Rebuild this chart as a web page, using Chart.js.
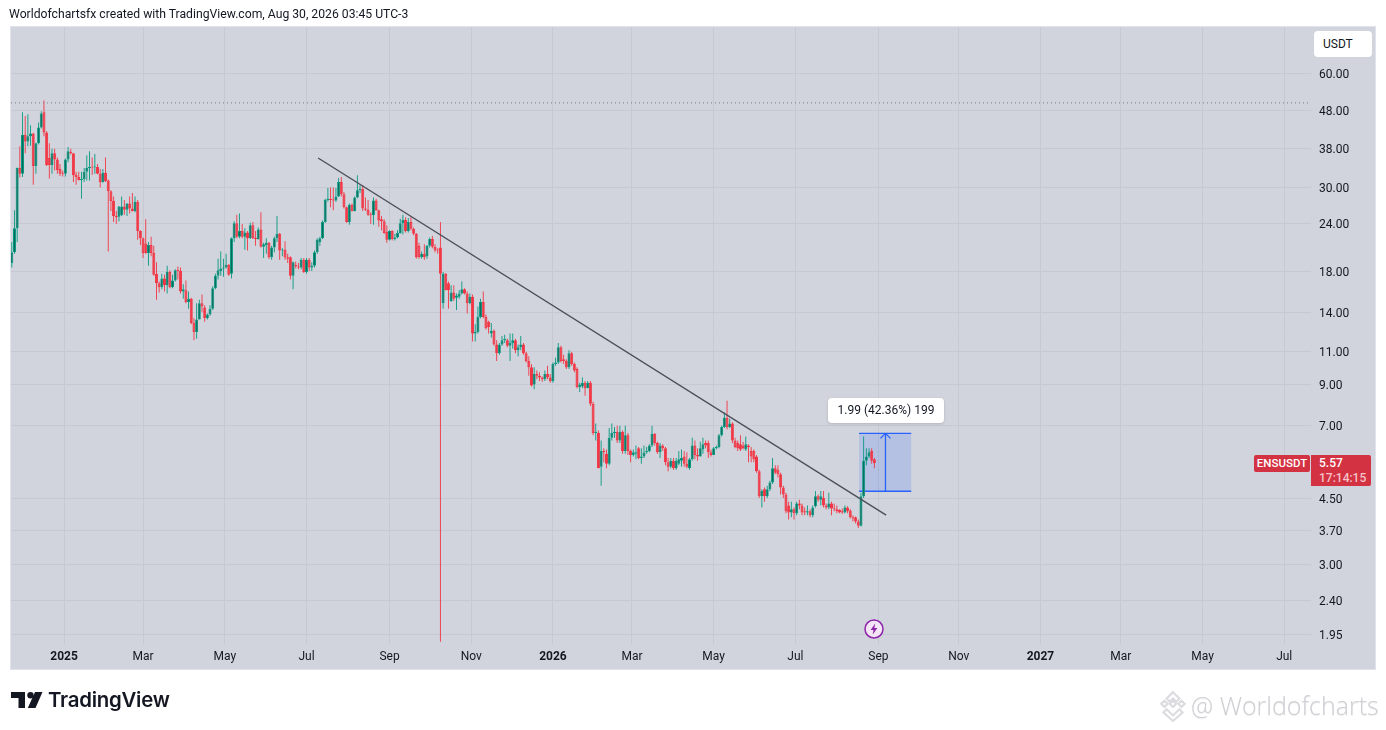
<!DOCTYPE html>
<html>
<head>
<meta charset="utf-8">
<title>ENSUSDT</title>
<script src="https://cdn.jsdelivr.net/npm/chart.js@4"></script>
<style>
  html, body { margin: 0; padding: 0; background: #fff; width: 1386px; height: 730px; overflow: hidden; }
  canvas { position: absolute; left: 0; top: 0; }
  .txt { position: absolute; white-space: nowrap; font-family: Roboto, sans-serif; color: #131722; }
  #head { left: 9px; top: 7px; font-size: 12.2px; line-height: 14px; }
  #unit { left: 1314px; top: 31px; width: 58px; height: 26px; line-height: 26px; background: #fff; border-radius: 4px; font-size: 12px; text-indent: 9px; }
  #sym { left: 1254px; top: 455px; width: 56px; height: 17px; line-height: 17px; background: #d33242; color: #fff; border-radius: 2px; font-size: 11.5px; font-weight: 500; text-align: center; }
  #last { left: 1311px; top: 455px; width: 60px; height: 31px; background: #d33242; color: #fff; border-radius: 0 2px 2px 0; font-size: 12px; font-weight: 500; line-height: 15px; }
  #last div { padding-left: 8px; padding-top: 1px; }
  #last div + div { padding-top: 0; color: #f6c3c8; }
  #measure { left: 828px; top: 398px; width: 116px; height: 25px; line-height: 25px; background: #fff; border-radius: 4px; font-size: 12px; text-align: center; box-shadow: 0 1px 3px rgba(0,0,0,.15); }
  #brand { left: 48px; top: 687px; font-family: Inter, sans-serif; font-size: 20.4px; line-height: 26px; font-weight: 600; letter-spacing: -0.25px; }
  #mark { left: 1191px; top: 688px; font-family: "Open Sans", sans-serif; font-size: 25px; line-height: 34px; font-weight: 300; color: #cfcfd4; text-shadow: 0 1px 1px #ececee; }
  svg { position: absolute; }
</style>
</head>
<body>
<canvas id="myChart" width="1386" height="730"></canvas>
<div class="txt" id="head">Worldofchartsfx created with TradingView.com, Aug 30, 2026 03:45 UTC-3</div>
<div class="txt" id="unit">USDT</div>
<div class="txt" id="sym">ENSUSDT</div>
<div class="txt" id="last"><div>5.57</div><div>17:14:15</div></div>
<div class="txt" id="measure">1.99 (42.36%) 199</div>
<svg style="left:864px;top:619px" width="20" height="20" viewBox="0 0 20 20">
  <circle cx="10" cy="10" r="9" fill="#f3e5f5" stroke="#8e24aa" stroke-width="1.5"/>
  <path d="M11.2 4.5 6.6 11h2.9l-.8 4.5 4.7-6.6h-3z" fill="#8e24aa"/>
</svg>
<svg style="left:11px;top:691px" width="32" height="18" viewBox="0 0 32 18">
  <path d="M0 1h14v16H7.5V7H0z" fill="#131722"/>
  <circle cx="19.5" cy="4.2" r="3.2" fill="#131722"/>
  <path d="M24 1h7.5l-7 16H16.8z" fill="#131722"/>
</svg>
<div class="txt" id="brand">TradingView</div>
<svg style="left:1157px;top:690px" width="32" height="32" viewBox="0 0 30 30">
  <g fill="none" stroke="#dcdce0" stroke-width="2">
    <path d="M15 2l6 6-3 3-3-3-3 3-3-3z"/>
    <path d="M7 10l3 3-3 3-3-3zM23 10l3 3-3 3-3-3z"/>
    <path d="M15 10l3 3-3 3-3-3z"/>
    <path d="M9 18l6 6 6-6 3 3-9 8-9-8z"/>
  </g>
</svg>
<div class="txt" id="mark">@ Worldofcharts</div>
<script>
// 2-day candles, day 0 = 1 Jan 2025
const firstCandleDay = -39;
const opens = [
  18.9,20.2,23.4,33.8,32.6,41.4,39.7,41,41.7,34.2,
  39.3,43.3,47.5,42,35.9,34.4,37,35.6,33.6,32.8,
  32.6,35.6,37.3,37,32.4,32,31.4,31.6,33,33.8,
  34,33.9,34,32.6,31,32.8,31.3,29.3,27.6,25.2,
  25.1,25.3,26.7,26.2,27.2,26.4,26,27.5,23,22,
  21.3,20.1,21.1,20.1,17.7,16.7,16.3,17.2,16.5,17.9,
  16.3,17,18.1,18,15.9,16,14.9,15.2,13.1,12.4,
  13.4,14.8,14.4,13.5,13.8,14.3,16.2,17.5,18,18.3,
  18.4,18.7,17.7,22,24.1,22.2,23,22.2,22.8,22,
  23.8,22,21.9,23.2,20.9,21.1,21.4,19.6,20.8,22,
  22.6,20.4,20.5,19.6,19.6,17.5,18.7,18.5,18.4,19.3,
  17.9,19.3,18.4,18.6,20.2,21.5,22,24.3,27.8,28,
  27.8,27.7,28.4,31,28.8,26.6,24.3,27,26,28.2,
  29.5,29.7,26.4,26.2,25.4,25.3,27.7,26.1,24.7,24.4,
  22.9,21.8,23,21.9,22.1,22.7,24.1,24.6,23,24.3,
  23.3,22.6,21,19.6,20,19.7,21,21.9,20.9,20.5,
  20.8,14.8,17.7,16.7,15,15.8,15.3,15.4,15.7,16.1,
  15.7,14.8,15.4,12.3,12.4,13.6,14.9,13.6,13.2,12.3,
  12.5,11.5,10.9,11.5,11.8,11.8,11.4,11.6,11.8,11.1,
  11.3,11.5,10.9,10.4,10,9,9.6,9.5,9.4,9.3,
  9.6,9.4,9.2,10.2,10.3,11.3,10.5,10.4,10,10.9,
  10.2,9.9,8.85,8.9,9.1,8.8,9.1,8,6.7,6.7,
  5.45,6,5.9,5.55,6.5,6.7,6.75,6.4,6.75,6,
  6.6,6,5.85,5.9,6.1,5.75,5.8,5.95,6,6.2,
  6.65,6.3,5.95,6.2,6.1,5.6,5.45,5.65,5.4,5.55,
  5.65,5.8,5.55,5.4,5.7,6.2,5.85,5.8,6.05,6.3,
  6.3,5.95,5.85,6.1,6.15,6.6,6.95,7.35,6.95,7.1,
  6.4,6.3,6.25,6.2,6.05,6.2,6,6,5.8,5.3,
  4.55,4.75,4.55,4.75,4.95,5.4,5.35,5.2,4.8,4.6,
  4.3,4.12,4.2,4.1,4.35,4.3,4.15,4.12,4.15,4.05,
  4.28,4.55,4.45,4.5,4.3,4.25,4.35,4.22,4.2,4.18,
  4.15,4.12,4.25,4.17,4,4,3.9,3.8,4.55,5.65,
  5.8,6,5.7
];
const highs = [
  21.5,26.1,33.9,38.6,47.5,46.4,46.9,43.9,41.9,39.4,
  44.6,47.8,51,42.3,39.3,38,38,36,34.6,33.3,
  35.8,38.4,38,37,33,33,33,33.8,36.5,37.4,
  36,36.8,34.6,33.6,33.6,36,31.5,29.5,28.4,26,
  26.8,28.4,27.8,27.3,28.4,29,28.4,27.8,23.1,22.1,
  24.7,21.5,22.2,21,19,16.9,17.7,17.6,18.6,18.1,
  17.6,18.2,18.5,18.4,16.6,17,15.9,15.3,13.5,14.8,
  15.1,15.6,14.6,13.9,14.6,16.4,17.7,19.4,20.3,19.4,
  20,18.8,22.1,24.4,25.4,25.6,24,23.4,23,24.2,
  24.3,23,23.5,25.8,21.4,22,21.5,21,22.2,25.2,
  22.7,20.7,21.6,20,19.7,19.1,19.1,18.9,19.5,19.5,
  19.5,19.5,19,20.4,22,22.2,24.5,28,29.9,30,
  30,29.9,31.8,32,29.2,26.7,27.2,27.2,28.4,32.3,
  30.4,30.4,28.2,27.8,25.8,28.2,28,26.2,25.2,24.7,
  23.8,23.1,23.1,22.6,23.1,24.8,25.4,25,24.9,25,
  23.5,22.7,21.4,20.3,21.2,21.1,22.1,22.3,21.2,20.7,
  24.3,17.9,17.8,16.9,16.5,16.5,15.7,16,16.9,16.2,
  15.9,15.7,15.6,13,14.5,15.2,15.9,13.8,13.3,13.1,
  12.6,11.8,11.6,12.1,12.2,11.9,12.3,12.3,11.9,11.5,
  12.1,11.6,11,10.7,10.2,10,9.8,9.7,9.45,9.8,
  10.1,9.6,10.3,10.6,11.6,11.4,10.8,10.5,11.1,11,
  10.3,10,9.1,9.4,9.2,9.2,9.2,8.1,7.1,6.8,
  6.4,6.1,6.05,6.9,7.1,6.95,7,7,6.8,7,
  6.7,6.05,6.05,6.2,6.15,6.1,6.2,6.15,6.25,7,
  6.7,6.35,6.3,6.25,6.15,5.75,5.75,5.75,5.75,6,
  6.05,6,5.95,5.75,6.5,6.4,6.1,6.35,6.5,6.4,
  6.4,6.05,6.15,6.2,6.65,7,7.6,8.15,7.3,7.15,
  6.5,6.4,6.6,6.35,6.55,6.25,6.15,6.05,5.85,5.35,
  4.75,4.8,4.85,5,5.75,5.5,5.5,5.25,4.85,4.65,
  4.4,4.4,4.25,4.4,4.45,4.35,4.25,4.3,4.2,4.3,
  4.7,4.6,4.7,4.7,4.35,4.65,4.4,4.35,4.3,4.2,
  4.22,4.3,4.28,4.2,4.05,4.02,3.95,4.65,6.55,6.1,
  6.1,6.1,5.75
];
const lows = [
  18.4,20,21.5,31.9,32,37,38.6,38.7,30.5,32.6,
  39,43,41,34.2,31.7,32.6,33.3,32.6,32.2,32.1,
  32.1,35,36.7,31,30.5,31.3,28,31,31.3,31.3,
  32.4,32.6,32.5,30,30.9,31,20.3,26,24.3,24,
  24.4,25.2,25.4,25.2,25.6,25.9,25.8,21.8,21.1,19.5,
  20,18.6,19.7,17.5,15.1,15.8,16.1,15.9,15.7,16.2,
  16.2,16.9,17.1,15.7,15.2,14.8,14.3,13,11.8,11.9,
  13.4,14,13.2,13.4,13.7,14.2,16.1,17.1,17.5,17.4,
  18.3,17.5,17.2,21.5,22,22,22,20.5,20.4,21.9,
  21.9,21,21.8,20.8,19.5,20,19.4,19.3,20.2,21.5,
  19.3,19.7,19.3,18.9,17.1,16.1,18.3,18.2,18.2,17.8,
  17.7,18,18,18.4,20,21,21.9,24.2,27.5,26.6,
  26.1,27.5,28.3,28.4,26.4,24.2,23.9,25.9,25.9,28.1,
  29,26,26,25.2,24,23.9,26,23.6,23.1,22.6,
  21.4,21.7,21.7,21.7,22,22.6,22.5,22.8,22.8,23.1,
  22.4,19.4,19.4,19.4,19.3,19.4,20.8,20.7,20.2,20,
  1.87,14.3,16,14.3,14.9,15,14.2,15.2,15.6,15.6,
  13.9,14.7,11.7,11.7,12.3,13.5,13.5,12.6,12.3,12,
  11.4,10.4,10.8,11.4,11.6,11.3,10.4,11.2,10.9,10.7,
  11.1,10.8,10.3,9.5,8.9,8.75,9.3,9.2,9.15,9.2,
  9.3,9.1,9.1,10.1,10.2,10.3,10.2,9.9,9.9,10.1,
  9.7,8.8,8.6,8.8,8.4,8.8,7.9,6.6,6.4,5.4,
  4.85,5.6,5.4,5.5,6.4,6.5,6.3,6.3,5.9,5.9,
  5.85,5.6,5.8,5.7,5.7,5.55,5.75,5.9,5.95,6.15,
  6.2,5.9,5.75,6,5.5,5.3,5.4,5.35,5.35,5.5,
  5.45,5.45,5.4,5.35,5.65,5.7,5.65,5.8,5.9,6.1,
  5.75,5.8,5.85,6.05,6.1,6.55,6.9,6.85,6.9,6.3,
  6.1,6,6,6.05,6,5.6,5.6,5.6,5.25,4.5,
  4.25,4.4,4.5,4.7,4.9,5.2,5.1,4.6,4.5,4.1,
  3.95,4,3.95,4.05,4.2,4.05,4.05,4.05,4,4,
  4.25,4.4,4.3,4.25,4.2,4.2,4.05,4.15,4.1,4.1,
  4.08,4.1,4.1,3.97,3.9,3.85,3.75,3.78,4.5,5.5,
  5.75,5.55,5.4
];
const closes = [
  20.2,23.4,33.8,32.6,41.4,39.7,41,41.7,34.2,39.3,
  43.3,47.1,42,34.4,34.4,37,35.6,33.4,32.6,32.6,
  35.6,37.4,37,32.3,32,31.4,31.6,33,33.8,34,
  33.9,34,32.6,31,32.8,31.2,29.3,27.6,25.2,25,
  26.7,26.7,26.2,27.2,26.4,26,27.5,23,22,20.1,
  20.1,21.1,20.1,17.6,16.7,16.3,17.2,16.5,17.9,16.3,
  17,18.1,18,15.9,16.1,14.9,15.2,13.1,12.4,13.4,
  14.8,14.5,13.5,13.8,14.3,16.2,17.5,18.1,18.3,18.4,
  18.7,17.6,22,24.1,22.2,23,22.2,22.8,22,23.8,
  22,21.9,23.2,20.9,21.2,21.4,19.6,20.8,22,22.6,
  20.4,20.5,19.6,19.4,17.5,19,18.5,18.4,19.3,17.9,
  19.3,18.4,18.6,20.2,21.8,22,24.3,27.8,28,27.8,
  27.7,28.4,31,28.8,26.6,24.3,27,26,28.2,29.5,
  29.7,26.4,26.2,25.4,25.3,27.7,26.1,24.5,24.4,22.7,
  21.8,23,21.9,22.1,22.7,24.1,24.6,23,24.3,23.3,
  22.6,19.6,19.6,20,19.6,21,21.9,20.9,20.4,20.4,
  17.7,17.7,16,16,15.8,15.2,15.5,15.7,16.1,15.7,
  14.8,15.4,12.3,12.4,13.6,14.9,13.6,12.7,12.8,12.5,
  11.5,10.9,11.5,11.8,11.9,11.4,11.6,11.8,11.1,11.3,
  11.5,10.9,10.4,10,8.95,9.6,9.5,9.4,9.3,9.6,
  9.4,9.2,10.2,10.3,11.3,10.4,10.4,10,10.9,10.2,
  9.8,8.85,9,9.1,8.8,9.1,8,6.7,6.75,5.4,
  6,5.95,5.55,6.5,6.7,6.75,6.4,6.75,6,6.6,
  6,5.85,5.95,5.95,5.75,5.8,5.94,6,6.2,6.65,
  6.3,5.95,6.2,6.1,5.6,5.45,5.65,5.4,5.65,5.7,
  5.75,5.55,5.45,5.7,6.2,5.85,5.8,6.1,6.25,6.2,
  5.95,5.85,6.1,6.15,6.6,6.95,7.35,6.95,7.1,6.4,
  6.15,6.1,6.05,6.1,6.25,6.15,5.8,5.7,5.3,4.55,
  4.7,4.55,4.75,4.95,5.4,5.25,5.2,4.8,4.6,4.15,
  4.12,4.2,4.1,4.35,4.3,4.12,4.12,4.15,4.05,4.25,
  4.55,4.45,4.55,4.3,4.25,4.35,4.22,4.2,4.15,4.12,
  4.12,4.25,4.15,4,3.97,3.9,3.8,4.55,5.65,5.8,
  5.95,5.65,5.57
];

const priceTicks = [60, 48, 38, 30, 24, 18, 14, 11, 9, 7, 4.5, 3.7, 3, 2.4, 1.95];
const monthDays = [0, 59, 120, 181, 243, 304, 365, 424, 485, 546, 608, 668, 729, 789, 850, 911];
const monthLabels = ["2025", "Mar", "May", "Jul", "Sep", "Nov", "2026", "Mar", "May", "Jul", "Sep", "Nov", "2027", "Mar", "May", "Jul"];

const trendDays = [189.7, 613.8];
const trendPrices = [35.9, 4.055];
const peakPrice = 50.3;
const peakDays = [-39.6, 929];
const toolDays = [593.6, 632.5];
const toolArrowDay = 613.3;
const toolMarkerDay = 608;
const toolPrices = [4.69, 6.68];

const upColor = "#089981";
const upFill = "#056a5a";
const downColor = "#f23645";
const gridColor = "#c6c9d2";
const font = "Roboto, sans-serif";

const candleDays = opens.map((_, i) => firstCandleDay + i * 2);
const isUp = opens.map((o, i) => closes[i] >= o);

// panel behind the plot and the long position box under the candles
const backdrop = {
  id: "backdrop",
  beforeDraw(chart) {
    const c = chart.ctx;
    c.save();
    c.fillStyle = "#d1d4dc";
    c.fillRect(10, 26, 1366, 644);
    c.strokeStyle = "#e0e3eb";
    c.strokeRect(10.5, 26.5, 1365, 643);
    c.restore();
  },
  beforeDatasetsDraw(chart) {
    const c = chart.ctx, x = chart.scales.x, y = chart.scales.y;
    const x0 = x.getPixelForValue(toolDays[0]), x1 = x.getPixelForValue(toolDays[1]);
    const y0 = y.getPixelForValue(toolPrices[1]), y1 = y.getPixelForValue(toolPrices[0]);
    const ax = x.getPixelForValue(toolArrowDay), mx = x.getPixelForValue(toolMarkerDay);
    c.save();
    c.fillStyle = "rgba(41,98,255,0.17)";
    c.fillRect(x0, y0, x1 - x0, y1 - y0);
    c.strokeStyle = "#a9acb6";
    c.setLineDash([1, 8]);
    c.beginPath(); c.moveTo(mx, y0); c.lineTo(mx, y1); c.stroke();
    c.setLineDash([]);
    c.strokeStyle = "#2962ff";
    c.lineWidth = 1.3;
    c.beginPath();
    c.moveTo(x0, y0); c.lineTo(x1, y0);
    c.moveTo(x0, y1); c.lineTo(x1, y1);
    c.moveTo(ax, y1); c.lineTo(ax, y0);
    c.moveTo(ax - 5, y0 + 5); c.lineTo(ax, y0); c.lineTo(ax + 5, y0 + 5);
    c.stroke();
    c.restore();
  }
};

new Chart(document.getElementById("myChart").getContext("2d"), {
  type: "bar",
  data: {
    datasets: [
      {
        label: "Peak",
        type: "line",
        data: peakDays.map(d => ({ x: d, y: peakPrice })),
        borderColor: "#787b86",
        borderWidth: 1,
        borderDash: [1, 3],
        pointRadius: 0,
        order: 0
      },
      {
        label: "Trend",
        type: "line",
        data: trendDays.map((d, i) => ({ x: d, y: trendPrices[i] })),
        borderColor: "#4a4d57",
        borderWidth: 1.3,
        pointRadius: 0,
        order: 1
      },
      {
        label: "Body",
        data: candleDays.map((d, i) => ({ x: d, y: [opens[i], closes[i]] })),
        backgroundColor: isUp.map(u => u ? upFill : downColor),
        borderColor: isUp.map(u => u ? upColor : downColor),
        borderWidth: 1,
        borderSkipped: false,
        barThickness: 3,
        minBarLength: 1,
        inflateAmount: 0,
        grouped: false,
        order: 2
      },
      {
        label: "Wick",
        data: candleDays.map((d, i) => ({ x: d, y: [lows[i], highs[i]] })),
        backgroundColor: isUp.map(u => u ? upColor : downColor),
        barThickness: 0.9,
        inflateAmount: 0,
        grouped: false,
        order: 3
      }
    ]
  },
  options: {
    responsive: false,
    animation: false,
    layout: { padding: { left: 11, right: 10, top: 27, bottom: 61 } },
    plugins: { legend: { display: false }, tooltip: { enabled: false } },
    scales: {
      x: {
        type: "linear",
        offset: false,
        min: -39.6,
        max: 931,
        afterFit(scale) { scale.height = 25; },
        afterBuildTicks(scale) { scale.ticks = monthDays.map(v => ({ value: v })); },
        grid: { offset: false, color: gridColor, drawTicks: false },
        border: { display: false },
        ticks: {
          autoSkip: false,
          maxRotation: 0,
          padding: 6,
          color: "#131722",
          font: ctx => ({ family: font, size: 12, weight: /^\d/.test(monthLabels[ctx.index]) ? "bold" : "normal" }),
          callback: (v) => monthLabels[monthDays.indexOf(v)]
        }
      },
      y: {
        type: "logarithmic",
        position: "right",
        min: 1.845,
        max: 79.95,
        afterFit(scale) { scale.width = 65; },
        afterBuildTicks(scale) { scale.ticks = priceTicks.map(v => ({ value: v })); },
        grid: { color: gridColor, drawTicks: false },
        border: { display: false },
        ticks: {
          autoSkip: false,
          padding: 8,
          labelOffset: 1.5,
          color: "#131722",
          font: { family: font, size: 12 },
          callback: (v) => Number(v).toFixed(2)
        }
      }
    }
  },
  plugins: [backdrop]
});
</script>
</body>
</html>
